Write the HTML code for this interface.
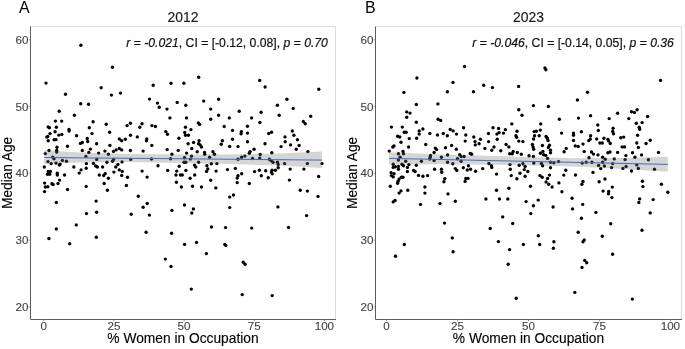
<!DOCTYPE html>
<html><head><meta charset="utf-8"><title>Median Age vs % Women in Occupation</title>
<style>html,body{margin:0;padding:0;background:#fff}svg{display:block}</style></head>
<body>
<svg width="685" height="349" viewBox="0 0 685 349" font-family='"Liberation Sans", Arial, Helvetica, sans-serif'>
<rect width="685" height="349" fill="#fff"/>
<path d="M30.5,26.5H335.5V319.5" fill="none" stroke="#dcdcdc" stroke-width="1"/>
<polygon points="44.2,150.2 80,152.6 130,153.9 183,154.4 230,154.5 280,153.4 321.9,151.5 321.9,168.1 280,165.6 230,164.0 183,162.9 130,161.9 80,162.6 44.2,164.1" fill="#dfdfe0"/>
<g fill="#000"><circle cx="80.9" cy="45.2" r="1.68"/><circle cx="112.4" cy="67.3" r="1.68"/><circle cx="46.0" cy="83.1" r="1.68"/><circle cx="153.2" cy="85.3" r="1.68"/><circle cx="101.2" cy="87.7" r="1.68"/><circle cx="65.5" cy="94.3" r="1.68"/><circle cx="111.4" cy="95.1" r="1.68"/><circle cx="120.5" cy="93.1" r="1.68"/><circle cx="171.0" cy="83.2" r="1.68"/><circle cx="183.9" cy="83.2" r="1.68"/><circle cx="198.7" cy="77.2" r="1.68"/><circle cx="259.7" cy="80.4" r="1.68"/><circle cx="265.1" cy="87.0" r="1.68"/><circle cx="318.8" cy="89.2" r="1.68"/><circle cx="80.7" cy="103.7" r="1.68"/><circle cx="88.5" cy="104.3" r="1.68"/><circle cx="59.2" cy="111.2" r="1.68"/><circle cx="74.4" cy="115.2" r="1.68"/><circle cx="55.4" cy="121.1" r="1.68"/><circle cx="61.7" cy="121.1" r="1.68"/><circle cx="93.1" cy="121.8" r="1.68"/><circle cx="106.2" cy="124.3" r="1.68"/><circle cx="127.1" cy="125.6" r="1.68"/><circle cx="130.4" cy="123.3" r="1.68"/><circle cx="48.2" cy="126.9" r="1.68"/><circle cx="49.4" cy="127.8" r="1.68"/><circle cx="56.4" cy="127.2" r="1.68"/><circle cx="89.3" cy="127.8" r="1.68"/><circle cx="69.0" cy="129.5" r="1.68"/><circle cx="69.1" cy="131.0" r="1.68"/><circle cx="55.1" cy="131.7" r="1.68"/><circle cx="50.0" cy="133.6" r="1.68"/><circle cx="109.6" cy="132.3" r="1.68"/><circle cx="92.0" cy="133.6" r="1.68"/><circle cx="58.8" cy="135.1" r="1.68"/><circle cx="61.8" cy="134.4" r="1.68"/><circle cx="76.6" cy="135.7" r="1.68"/><circle cx="130.5" cy="135.2" r="1.68"/><circle cx="46.8" cy="137.1" r="1.68"/><circle cx="47.8" cy="136.4" r="1.68"/><circle cx="54.1" cy="139.8" r="1.68"/><circle cx="56.0" cy="139.6" r="1.68"/><circle cx="48.2" cy="140.8" r="1.68"/><circle cx="87.2" cy="138.5" r="1.68"/><circle cx="87.7" cy="141.5" r="1.68"/><circle cx="119.3" cy="139.0" r="1.68"/><circle cx="121.7" cy="140.8" r="1.68"/><circle cx="125.3" cy="139.2" r="1.68"/><circle cx="80.4" cy="143.4" r="1.68"/><circle cx="82.3" cy="142.5" r="1.68"/><circle cx="96.6" cy="143.7" r="1.68"/><circle cx="109.9" cy="145.4" r="1.68"/><circle cx="67.5" cy="146.2" r="1.68"/><circle cx="57.0" cy="147.2" r="1.68"/><circle cx="49.0" cy="150.5" r="1.68"/><circle cx="56.7" cy="150.5" r="1.68"/><circle cx="56.7" cy="152.0" r="1.68"/><circle cx="82.3" cy="150.5" r="1.68"/><circle cx="90.4" cy="149.1" r="1.68"/><circle cx="88.8" cy="152.4" r="1.68"/><circle cx="104.9" cy="151.1" r="1.68"/><circle cx="98.6" cy="153.1" r="1.68"/><circle cx="108.4" cy="154.3" r="1.68"/><circle cx="113.5" cy="151.4" r="1.68"/><circle cx="116.1" cy="149.9" r="1.68"/><circle cx="119.3" cy="148.5" r="1.68"/><circle cx="121.7" cy="149.9" r="1.68"/><circle cx="130.4" cy="150.5" r="1.68"/><circle cx="45.3" cy="153.6" r="1.68"/><circle cx="52.7" cy="157.1" r="1.68"/><circle cx="54.0" cy="158.8" r="1.68"/><circle cx="85.9" cy="156.4" r="1.68"/><circle cx="96.7" cy="159.4" r="1.68"/><circle cx="113.6" cy="159.4" r="1.68"/><circle cx="112.5" cy="161.3" r="1.68"/><circle cx="48.0" cy="161.6" r="1.68"/><circle cx="51.2" cy="163.6" r="1.68"/><circle cx="56.0" cy="163.1" r="1.68"/><circle cx="62.4" cy="160.4" r="1.68"/><circle cx="66.5" cy="161.3" r="1.68"/><circle cx="59.3" cy="165.0" r="1.68"/><circle cx="60.2" cy="164.1" r="1.68"/><circle cx="86.4" cy="163.6" r="1.68"/><circle cx="93.5" cy="163.4" r="1.68"/><circle cx="95.7" cy="166.0" r="1.68"/><circle cx="97.4" cy="167.0" r="1.68"/><circle cx="106.9" cy="162.3" r="1.68"/><circle cx="122.0" cy="161.9" r="1.68"/><circle cx="117.9" cy="164.5" r="1.68"/><circle cx="44.3" cy="167.0" r="1.68"/><circle cx="73.8" cy="167.0" r="1.68"/><circle cx="86.2" cy="168.2" r="1.68"/><circle cx="102.6" cy="167.0" r="1.68"/><circle cx="115.8" cy="167.0" r="1.68"/><circle cx="81.1" cy="169.9" r="1.68"/><circle cx="79.2" cy="173.1" r="1.68"/><circle cx="48.2" cy="171.4" r="1.68"/><circle cx="50.4" cy="171.4" r="1.68"/><circle cx="47.5" cy="174.3" r="1.68"/><circle cx="49.7" cy="174.3" r="1.68"/><circle cx="57.3" cy="173.3" r="1.68"/><circle cx="57.3" cy="175.0" r="1.68"/><circle cx="64.6" cy="175.0" r="1.68"/><circle cx="99.3" cy="175.0" r="1.68"/><circle cx="105.2" cy="173.6" r="1.68"/><circle cx="103.7" cy="175.5" r="1.68"/><circle cx="113.9" cy="172.1" r="1.68"/><circle cx="119.3" cy="169.9" r="1.68"/><circle cx="122.3" cy="171.4" r="1.68"/><circle cx="121.7" cy="175.5" r="1.68"/><circle cx="127.5" cy="177.2" r="1.68"/><circle cx="108.4" cy="178.2" r="1.68"/><circle cx="59.6" cy="180.1" r="1.68"/><circle cx="44.6" cy="183.1" r="1.68"/><circle cx="51.9" cy="183.8" r="1.68"/><circle cx="53.1" cy="184.5" r="1.68"/><circle cx="58.0" cy="183.5" r="1.68"/><circle cx="104.2" cy="183.5" r="1.68"/><circle cx="126.4" cy="185.5" r="1.68"/><circle cx="86.2" cy="186.4" r="1.68"/><circle cx="45.3" cy="187.0" r="1.68"/><circle cx="47.8" cy="186.7" r="1.68"/><circle cx="67.5" cy="189.5" r="1.68"/><circle cx="107.4" cy="190.3" r="1.68"/><circle cx="130.7" cy="159.4" r="1.68"/><circle cx="44.6" cy="191.6" r="1.68"/><circle cx="56.3" cy="202.5" r="1.68"/><circle cx="96.1" cy="201.1" r="1.68"/><circle cx="86.5" cy="213.6" r="1.68"/><circle cx="96.6" cy="212.3" r="1.68"/><circle cx="76.3" cy="224.9" r="1.68"/><circle cx="56.3" cy="228.9" r="1.68"/><circle cx="131.2" cy="214.3" r="1.68"/><circle cx="48.9" cy="238.5" r="1.68"/><circle cx="69.7" cy="243.7" r="1.68"/><circle cx="96.3" cy="237.2" r="1.68"/><circle cx="165.3" cy="259.1" r="1.68"/><circle cx="171.0" cy="266.5" r="1.68"/><circle cx="184.6" cy="244.4" r="1.68"/><circle cx="196.5" cy="242.4" r="1.68"/><circle cx="191.3" cy="289.1" r="1.68"/><circle cx="149.5" cy="99.1" r="1.68"/><circle cx="157.5" cy="103.1" r="1.68"/><circle cx="159.2" cy="107.2" r="1.68"/><circle cx="167.0" cy="109.1" r="1.68"/><circle cx="177.2" cy="102.4" r="1.68"/><circle cx="185.8" cy="105.2" r="1.68"/><circle cx="203.7" cy="101.1" r="1.68"/><circle cx="218.6" cy="99.2" r="1.68"/><circle cx="210.7" cy="109.1" r="1.68"/><circle cx="218.6" cy="115.2" r="1.68"/><circle cx="210.7" cy="119.2" r="1.68"/><circle cx="229.3" cy="117.9" r="1.68"/><circle cx="169.9" cy="117.9" r="1.68"/><circle cx="186.5" cy="117.9" r="1.68"/><circle cx="142.0" cy="123.7" r="1.68"/><circle cx="139.8" cy="127.2" r="1.68"/><circle cx="151.9" cy="125.6" r="1.68"/><circle cx="155.4" cy="126.5" r="1.68"/><circle cx="198.3" cy="123.0" r="1.68"/><circle cx="199.6" cy="124.4" r="1.68"/><circle cx="224.2" cy="126.5" r="1.68"/><circle cx="185.5" cy="127.2" r="1.68"/><circle cx="190.9" cy="129.6" r="1.68"/><circle cx="165.8" cy="131.6" r="1.68"/><circle cx="167.5" cy="134.2" r="1.68"/><circle cx="184.7" cy="132.5" r="1.68"/><circle cx="185.5" cy="135.2" r="1.68"/><circle cx="188.4" cy="135.2" r="1.68"/><circle cx="137.3" cy="136.9" r="1.68"/><circle cx="146.8" cy="139.0" r="1.68"/><circle cx="146.4" cy="140.8" r="1.68"/><circle cx="178.9" cy="138.3" r="1.68"/><circle cx="151.9" cy="145.4" r="1.68"/><circle cx="188.1" cy="143.7" r="1.68"/><circle cx="193.6" cy="142.4" r="1.68"/><circle cx="199.1" cy="140.8" r="1.68"/><circle cx="198.6" cy="143.7" r="1.68"/><circle cx="200.1" cy="145.0" r="1.68"/><circle cx="201.5" cy="147.0" r="1.68"/><circle cx="222.4" cy="140.8" r="1.68"/><circle cx="221.2" cy="144.2" r="1.68"/><circle cx="229.7" cy="146.5" r="1.68"/><circle cx="143.1" cy="151.1" r="1.68"/><circle cx="167.2" cy="149.6" r="1.68"/><circle cx="178.2" cy="150.4" r="1.68"/><circle cx="191.8" cy="148.5" r="1.68"/><circle cx="186.6" cy="153.1" r="1.68"/><circle cx="197.2" cy="151.7" r="1.68"/><circle cx="171.9" cy="154.3" r="1.68"/><circle cx="204.5" cy="152.4" r="1.68"/><circle cx="204.7" cy="154.2" r="1.68"/><circle cx="212.9" cy="151.7" r="1.68"/><circle cx="214.4" cy="154.2" r="1.68"/><circle cx="191.6" cy="156.1" r="1.68"/><circle cx="209.6" cy="157.2" r="1.68"/><circle cx="151.5" cy="159.0" r="1.68"/><circle cx="170.6" cy="158.7" r="1.68"/><circle cx="184.5" cy="157.8" r="1.68"/><circle cx="190.4" cy="159.1" r="1.68"/><circle cx="184.0" cy="162.2" r="1.68"/><circle cx="185.8" cy="162.2" r="1.68"/><circle cx="198.6" cy="162.3" r="1.68"/><circle cx="211.3" cy="163.8" r="1.68"/><circle cx="216.9" cy="163.6" r="1.68"/><circle cx="158.0" cy="165.8" r="1.68"/><circle cx="179.2" cy="166.3" r="1.68"/><circle cx="194.5" cy="165.1" r="1.68"/><circle cx="195.7" cy="167.0" r="1.68"/><circle cx="206.9" cy="165.8" r="1.68"/><circle cx="207.8" cy="168.9" r="1.68"/><circle cx="206.6" cy="171.4" r="1.68"/><circle cx="142.1" cy="171.1" r="1.68"/><circle cx="167.7" cy="170.4" r="1.68"/><circle cx="176.7" cy="171.1" r="1.68"/><circle cx="185.9" cy="170.4" r="1.68"/><circle cx="216.1" cy="171.1" r="1.68"/><circle cx="227.5" cy="169.6" r="1.68"/><circle cx="176.0" cy="175.0" r="1.68"/><circle cx="180.4" cy="175.0" r="1.68"/><circle cx="182.3" cy="175.0" r="1.68"/><circle cx="194.7" cy="175.0" r="1.68"/><circle cx="147.1" cy="177.1" r="1.68"/><circle cx="190.1" cy="178.2" r="1.68"/><circle cx="210.7" cy="180.3" r="1.68"/><circle cx="176.4" cy="182.3" r="1.68"/><circle cx="181.4" cy="187.0" r="1.68"/><circle cx="192.5" cy="186.3" r="1.68"/><circle cx="201.5" cy="187.0" r="1.68"/><circle cx="215.8" cy="187.9" r="1.68"/><circle cx="138.3" cy="196.2" r="1.68"/><circle cx="147.2" cy="203.5" r="1.68"/><circle cx="143.1" cy="207.2" r="1.68"/><circle cx="149.4" cy="215.1" r="1.68"/><circle cx="171.9" cy="210.4" r="1.68"/><circle cx="184.5" cy="205.0" r="1.68"/><circle cx="193.4" cy="208.9" r="1.68"/><circle cx="191.8" cy="213.0" r="1.68"/><circle cx="229.7" cy="197.1" r="1.68"/><circle cx="229.7" cy="207.6" r="1.68"/><circle cx="211.5" cy="227.0" r="1.68"/><circle cx="225.6" cy="227.6" r="1.68"/><circle cx="146.1" cy="232.2" r="1.68"/><circle cx="171.6" cy="233.3" r="1.68"/><circle cx="206.4" cy="253.6" r="1.68"/><circle cx="224.8" cy="244.4" r="1.68"/><circle cx="225.8" cy="245.4" r="1.68"/><circle cx="243.2" cy="262.3" r="1.68"/><circle cx="245.1" cy="264.3" r="1.68"/><circle cx="242.2" cy="294.6" r="1.68"/><circle cx="272.2" cy="295.6" r="1.68"/><circle cx="286.9" cy="99.2" r="1.68"/><circle cx="277.4" cy="105.2" r="1.68"/><circle cx="293.2" cy="108.4" r="1.68"/><circle cx="239.2" cy="111.2" r="1.68"/><circle cx="261.1" cy="112.3" r="1.68"/><circle cx="279.2" cy="115.2" r="1.68"/><circle cx="310.7" cy="116.3" r="1.68"/><circle cx="251.6" cy="117.9" r="1.68"/><circle cx="259.9" cy="122.5" r="1.68"/><circle cx="303.3" cy="121.5" r="1.68"/><circle cx="305.2" cy="123.7" r="1.68"/><circle cx="247.5" cy="126.3" r="1.68"/><circle cx="232.5" cy="130.4" r="1.68"/><circle cx="241.4" cy="131.6" r="1.68"/><circle cx="241.1" cy="133.8" r="1.68"/><circle cx="247.5" cy="133.1" r="1.68"/><circle cx="268.7" cy="133.5" r="1.68"/><circle cx="271.6" cy="132.3" r="1.68"/><circle cx="292.3" cy="131.0" r="1.68"/><circle cx="293.9" cy="135.2" r="1.68"/><circle cx="285.0" cy="136.9" r="1.68"/><circle cx="232.5" cy="139.3" r="1.68"/><circle cx="247.5" cy="141.7" r="1.68"/><circle cx="285.2" cy="141.7" r="1.68"/><circle cx="297.4" cy="139.8" r="1.68"/><circle cx="265.0" cy="143.7" r="1.68"/><circle cx="290.6" cy="144.9" r="1.68"/><circle cx="299.1" cy="145.5" r="1.68"/><circle cx="281.1" cy="146.6" r="1.68"/><circle cx="238.0" cy="146.6" r="1.68"/><circle cx="296.2" cy="149.2" r="1.68"/><circle cx="254.1" cy="149.2" r="1.68"/><circle cx="250.1" cy="151.6" r="1.68"/><circle cx="249.3" cy="153.3" r="1.68"/><circle cx="271.8" cy="152.8" r="1.68"/><circle cx="307.9" cy="151.6" r="1.68"/><circle cx="260.2" cy="154.5" r="1.68"/><circle cx="244.9" cy="156.1" r="1.68"/><circle cx="241.6" cy="157.3" r="1.68"/><circle cx="238.0" cy="159.3" r="1.68"/><circle cx="252.5" cy="158.5" r="1.68"/><circle cx="259.7" cy="158.1" r="1.68"/><circle cx="269.3" cy="159.3" r="1.68"/><circle cx="271.0" cy="160.6" r="1.68"/><circle cx="273.0" cy="162.2" r="1.68"/><circle cx="277.4" cy="162.2" r="1.68"/><circle cx="278.2" cy="164.4" r="1.68"/><circle cx="284.6" cy="163.6" r="1.68"/><circle cx="307.4" cy="163.6" r="1.68"/><circle cx="322.0" cy="163.6" r="1.68"/><circle cx="235.3" cy="168.4" r="1.68"/><circle cx="278.2" cy="167.8" r="1.68"/><circle cx="290.2" cy="169.1" r="1.68"/><circle cx="303.9" cy="169.1" r="1.68"/><circle cx="259.4" cy="170.2" r="1.68"/><circle cx="254.6" cy="171.6" r="1.68"/><circle cx="265.7" cy="170.8" r="1.68"/><circle cx="272.1" cy="170.2" r="1.68"/><circle cx="271.4" cy="172.1" r="1.68"/><circle cx="272.2" cy="173.7" r="1.68"/><circle cx="275.4" cy="170.2" r="1.68"/><circle cx="241.7" cy="173.7" r="1.68"/><circle cx="238.0" cy="175.7" r="1.68"/><circle cx="237.2" cy="178.1" r="1.68"/><circle cx="261.3" cy="175.7" r="1.68"/><circle cx="268.2" cy="177.7" r="1.68"/><circle cx="318.6" cy="176.5" r="1.68"/><circle cx="289.4" cy="180.1" r="1.68"/><circle cx="237.2" cy="182.6" r="1.68"/><circle cx="249.3" cy="183.5" r="1.68"/><circle cx="300.2" cy="190.3" r="1.68"/><circle cx="307.4" cy="191.1" r="1.68"/><circle cx="233.5" cy="195.0" r="1.68"/><circle cx="318.0" cy="196.4" r="1.68"/><circle cx="277.9" cy="206.9" r="1.68"/><circle cx="306.6" cy="215.6" r="1.68"/><circle cx="251.7" cy="228.1" r="1.68"/><circle cx="288.5" cy="227.5" r="1.68"/></g>
<polygon points="44.2,150.2 80,152.6 130,153.9 183,154.4 230,154.5 280,153.4 321.9,151.5 321.9,168.1 280,165.6 230,164.0 183,162.9 130,161.9 80,162.6 44.2,164.1" fill="#aaa" fill-opacity="0.18"/>
<line x1="44.2" y1="157.5" x2="321.9" y2="160.1" stroke="#4f66ba" stroke-width="1.0"/>
<path d="M30.5,26.5V319.5H336.0" fill="none" stroke="#5c5c5c" stroke-width="1"/>
<line x1="43.8" y1="319.5" x2="43.8" y2="321.3" stroke="#777" stroke-width="0.8"/>
<text x="43.8" y="329.9" font-size="11.65" text-anchor="middle" fill="#444" stroke="#444" stroke-width="0.12">0</text>
<line x1="113.9" y1="319.5" x2="113.9" y2="321.3" stroke="#777" stroke-width="0.8"/>
<text x="113.9" y="329.9" font-size="11.65" text-anchor="middle" fill="#444" stroke="#444" stroke-width="0.12">25</text>
<line x1="184.1" y1="319.5" x2="184.1" y2="321.3" stroke="#777" stroke-width="0.8"/>
<text x="184.1" y="329.9" font-size="11.65" text-anchor="middle" fill="#444" stroke="#444" stroke-width="0.12">50</text>
<line x1="254.2" y1="319.5" x2="254.2" y2="321.3" stroke="#777" stroke-width="0.8"/>
<text x="254.2" y="329.9" font-size="11.65" text-anchor="middle" fill="#444" stroke="#444" stroke-width="0.12">75</text>
<line x1="324.4" y1="319.5" x2="324.4" y2="321.3" stroke="#777" stroke-width="0.8"/>
<text x="324.4" y="329.9" font-size="11.65" text-anchor="middle" fill="#444" stroke="#444" stroke-width="0.12">100</text>
<line x1="28.7" y1="306.8" x2="30.5" y2="306.8" stroke="#777" stroke-width="0.8"/>
<text x="28.5" y="310.9" font-size="11.65" text-anchor="end" fill="#444" stroke="#444" stroke-width="0.12">20</text>
<line x1="28.7" y1="240.1" x2="30.5" y2="240.1" stroke="#777" stroke-width="0.8"/>
<text x="28.5" y="244.2" font-size="11.65" text-anchor="end" fill="#444" stroke="#444" stroke-width="0.12">30</text>
<line x1="28.7" y1="173.3" x2="30.5" y2="173.3" stroke="#777" stroke-width="0.8"/>
<text x="28.5" y="177.4" font-size="11.65" text-anchor="end" fill="#444" stroke="#444" stroke-width="0.12">40</text>
<line x1="28.7" y1="106.6" x2="30.5" y2="106.6" stroke="#777" stroke-width="0.8"/>
<text x="28.5" y="110.7" font-size="11.65" text-anchor="end" fill="#444" stroke="#444" stroke-width="0.12">50</text>
<line x1="28.7" y1="39.8" x2="30.5" y2="39.8" stroke="#777" stroke-width="0.8"/>
<text x="28.5" y="43.9" font-size="11.65" text-anchor="end" fill="#444" stroke="#444" stroke-width="0.12">60</text>
<text x="183.0" y="21.6" font-size="13.9" text-anchor="middle" fill="#1a1a1a" stroke="#1a1a1a" stroke-width="0.15">2012</text>
<text x="183.0" y="343.3" font-size="13.78" text-anchor="middle" fill="#000" stroke="#000" stroke-width="0.12" transform="translate(0,-12.0) scale(1,1.035)">% Women in Occupation</text>
<text transform="translate(11.8,172.9) rotate(-90) scale(1,1.04)" font-size="13.63" text-anchor="middle" fill="#000" stroke="#000" stroke-width="0.12">Median Age</text>
<text x="327.9" y="47.3" font-size="12.2" text-anchor="end" fill="#111" stroke="#111" stroke-width="0.2"><tspan font-style="italic">r</tspan> = <tspan font-style="italic">-0.021</tspan>, CI = [-0.12, 0.08], <tspan font-style="italic">p</tspan> = <tspan font-style="italic">0.70</tspan></text>
<text x="19" y="12.8" font-size="15.95" fill="#000">A</text>
<path d="M375.5,26.5H681.5V319.5" fill="none" stroke="#dcdcdc" stroke-width="1"/>
<polygon points="389.2,152.2 430,154.0 475,155.6 528,157.0 575,158.2 620,157.9 667.8,156.8 667.8,171.8 620,168.7 575,166.5 528,165.3 475,164.6 430,164.2 389.2,164.4" fill="#dfdfe0"/>
<g fill="#000"><circle cx="416.9" cy="78.0" r="1.68"/><circle cx="403.9" cy="92.4" r="1.68"/><circle cx="464.5" cy="66.5" r="1.68"/><circle cx="544.9" cy="67.9" r="1.68"/><circle cx="545.9" cy="69.7" r="1.68"/><circle cx="453.0" cy="82.4" r="1.68"/><circle cx="483.7" cy="85.2" r="1.68"/><circle cx="492.4" cy="87.6" r="1.68"/><circle cx="518.6" cy="86.4" r="1.68"/><circle cx="447.4" cy="91.8" r="1.68"/><circle cx="473.5" cy="91.8" r="1.68"/><circle cx="587.5" cy="92.2" r="1.68"/><circle cx="660.5" cy="80.4" r="1.68"/><circle cx="416.3" cy="104.5" r="1.68"/><circle cx="437.9" cy="103.9" r="1.68"/><circle cx="406.7" cy="111.9" r="1.68"/><circle cx="410.0" cy="113.1" r="1.68"/><circle cx="406.7" cy="117.2" r="1.68"/><circle cx="416.3" cy="122.3" r="1.68"/><circle cx="438.1" cy="119.2" r="1.68"/><circle cx="440.7" cy="120.4" r="1.68"/><circle cx="391.4" cy="127.1" r="1.68"/><circle cx="402.3" cy="127.1" r="1.68"/><circle cx="463.6" cy="127.7" r="1.68"/><circle cx="422.9" cy="129.0" r="1.68"/><circle cx="419.2" cy="131.0" r="1.68"/><circle cx="419.2" cy="134.1" r="1.68"/><circle cx="450.2" cy="129.4" r="1.68"/><circle cx="453.1" cy="130.9" r="1.68"/><circle cx="404.2" cy="132.3" r="1.68"/><circle cx="406.1" cy="132.3" r="1.68"/><circle cx="429.9" cy="133.5" r="1.68"/><circle cx="437.5" cy="135.0" r="1.68"/><circle cx="443.3" cy="133.5" r="1.68"/><circle cx="447.3" cy="135.7" r="1.68"/><circle cx="456.5" cy="134.1" r="1.68"/><circle cx="465.8" cy="135.0" r="1.68"/><circle cx="397.6" cy="136.3" r="1.68"/><circle cx="399.8" cy="137.0" r="1.68"/><circle cx="409.3" cy="138.6" r="1.68"/><circle cx="416.6" cy="138.2" r="1.68"/><circle cx="473.8" cy="137.0" r="1.68"/><circle cx="401.0" cy="142.3" r="1.68"/><circle cx="465.2" cy="141.1" r="1.68"/><circle cx="475.0" cy="141.6" r="1.68"/><circle cx="475.3" cy="144.9" r="1.68"/><circle cx="425.7" cy="144.5" r="1.68"/><circle cx="394.0" cy="145.9" r="1.68"/><circle cx="392.8" cy="147.0" r="1.68"/><circle cx="408.6" cy="147.0" r="1.68"/><circle cx="451.6" cy="145.5" r="1.68"/><circle cx="445.5" cy="147.8" r="1.68"/><circle cx="456.3" cy="149.2" r="1.68"/><circle cx="435.3" cy="148.1" r="1.68"/><circle cx="436.6" cy="149.6" r="1.68"/><circle cx="389.3" cy="151.1" r="1.68"/><circle cx="403.0" cy="151.5" r="1.68"/><circle cx="403.5" cy="153.7" r="1.68"/><circle cx="398.4" cy="153.7" r="1.68"/><circle cx="434.1" cy="152.5" r="1.68"/><circle cx="470.2" cy="153.5" r="1.68"/><circle cx="471.6" cy="154.3" r="1.68"/><circle cx="447.6" cy="155.0" r="1.68"/><circle cx="459.7" cy="154.7" r="1.68"/><circle cx="461.1" cy="156.5" r="1.68"/><circle cx="464.1" cy="156.5" r="1.68"/><circle cx="430.5" cy="155.4" r="1.68"/><circle cx="430.2" cy="157.2" r="1.68"/><circle cx="429.7" cy="159.1" r="1.68"/><circle cx="441.4" cy="157.2" r="1.68"/><circle cx="400.1" cy="157.2" r="1.68"/><circle cx="398.4" cy="160.1" r="1.68"/><circle cx="457.5" cy="158.8" r="1.68"/><circle cx="461.1" cy="161.3" r="1.68"/><circle cx="434.1" cy="160.5" r="1.68"/><circle cx="421.4" cy="161.3" r="1.68"/><circle cx="405.7" cy="161.3" r="1.68"/><circle cx="447.6" cy="162.3" r="1.68"/><circle cx="452.8" cy="163.8" r="1.68"/><circle cx="393.2" cy="164.2" r="1.68"/><circle cx="402.0" cy="164.2" r="1.68"/><circle cx="403.5" cy="165.7" r="1.68"/><circle cx="408.9" cy="164.6" r="1.68"/><circle cx="416.3" cy="165.2" r="1.68"/><circle cx="468.4" cy="165.7" r="1.68"/><circle cx="393.2" cy="167.4" r="1.68"/><circle cx="395.4" cy="166.8" r="1.68"/><circle cx="398.4" cy="166.4" r="1.68"/><circle cx="398.4" cy="169.3" r="1.68"/><circle cx="407.4" cy="167.4" r="1.68"/><circle cx="407.4" cy="171.5" r="1.68"/><circle cx="434.6" cy="169.3" r="1.68"/><circle cx="441.4" cy="169.3" r="1.68"/><circle cx="441.7" cy="172.2" r="1.68"/><circle cx="455.3" cy="168.6" r="1.68"/><circle cx="456.8" cy="170.5" r="1.68"/><circle cx="463.3" cy="167.8" r="1.68"/><circle cx="467.3" cy="170.0" r="1.68"/><circle cx="470.6" cy="169.3" r="1.68"/><circle cx="475.6" cy="171.3" r="1.68"/><circle cx="413.7" cy="170.5" r="1.68"/><circle cx="415.1" cy="171.5" r="1.68"/><circle cx="391.1" cy="172.7" r="1.68"/><circle cx="394.0" cy="173.7" r="1.68"/><circle cx="391.4" cy="175.6" r="1.68"/><circle cx="393.2" cy="176.9" r="1.68"/><circle cx="418.5" cy="175.4" r="1.68"/><circle cx="422.9" cy="176.3" r="1.68"/><circle cx="427.6" cy="175.6" r="1.68"/><circle cx="401.3" cy="177.3" r="1.68"/><circle cx="403.0" cy="177.3" r="1.68"/><circle cx="399.1" cy="179.1" r="1.68"/><circle cx="398.1" cy="181.3" r="1.68"/><circle cx="397.6" cy="183.2" r="1.68"/><circle cx="444.8" cy="178.8" r="1.68"/><circle cx="443.9" cy="181.7" r="1.68"/><circle cx="465.8" cy="178.4" r="1.68"/><circle cx="468.0" cy="178.4" r="1.68"/><circle cx="465.1" cy="181.4" r="1.68"/><circle cx="390.3" cy="186.3" r="1.68"/><circle cx="424.9" cy="187.0" r="1.68"/><circle cx="424.9" cy="193.1" r="1.68"/><circle cx="407.8" cy="190.2" r="1.68"/><circle cx="401.0" cy="190.9" r="1.68"/><circle cx="399.1" cy="193.1" r="1.68"/><circle cx="448.0" cy="193.9" r="1.68"/><circle cx="395.1" cy="200.4" r="1.68"/><circle cx="393.2" cy="201.9" r="1.68"/><circle cx="455.3" cy="201.2" r="1.68"/><circle cx="420.5" cy="204.4" r="1.68"/><circle cx="440.0" cy="203.6" r="1.68"/><circle cx="444.5" cy="223.1" r="1.68"/><circle cx="404.3" cy="244.5" r="1.68"/><circle cx="395.5" cy="256.2" r="1.68"/><circle cx="452.3" cy="237.9" r="1.68"/><circle cx="453.1" cy="251.7" r="1.68"/><circle cx="490.2" cy="228.5" r="1.68"/><circle cx="498.4" cy="241.6" r="1.68"/><circle cx="509.6" cy="249.6" r="1.68"/><circle cx="508.2" cy="264.2" r="1.68"/><circle cx="523.4" cy="244.5" r="1.68"/><circle cx="538.3" cy="235.7" r="1.68"/><circle cx="539.7" cy="244.5" r="1.68"/><circle cx="516.2" cy="298.3" r="1.68"/><circle cx="533.4" cy="105.6" r="1.68"/><circle cx="548.4" cy="106.5" r="1.68"/><circle cx="518.8" cy="109.7" r="1.68"/><circle cx="522.0" cy="115.3" r="1.68"/><circle cx="559.4" cy="119.2" r="1.68"/><circle cx="511.8" cy="123.9" r="1.68"/><circle cx="540.7" cy="123.9" r="1.68"/><circle cx="493.0" cy="127.7" r="1.68"/><circle cx="498.6" cy="128.4" r="1.68"/><circle cx="505.4" cy="129.6" r="1.68"/><circle cx="488.4" cy="133.5" r="1.68"/><circle cx="499.1" cy="132.6" r="1.68"/><circle cx="496.9" cy="134.1" r="1.68"/><circle cx="503.5" cy="133.1" r="1.68"/><circle cx="517.0" cy="131.3" r="1.68"/><circle cx="515.9" cy="135.7" r="1.68"/><circle cx="516.6" cy="137.2" r="1.68"/><circle cx="534.1" cy="131.6" r="1.68"/><circle cx="536.3" cy="131.3" r="1.68"/><circle cx="540.3" cy="130.1" r="1.68"/><circle cx="534.6" cy="135.7" r="1.68"/><circle cx="539.2" cy="135.7" r="1.68"/><circle cx="533.6" cy="139.0" r="1.68"/><circle cx="546.1" cy="136.4" r="1.68"/><circle cx="547.3" cy="138.2" r="1.68"/><circle cx="561.6" cy="133.1" r="1.68"/><circle cx="573.5" cy="133.1" r="1.68"/><circle cx="573.5" cy="135.3" r="1.68"/><circle cx="480.5" cy="139.3" r="1.68"/><circle cx="497.2" cy="139.3" r="1.68"/><circle cx="479.1" cy="143.8" r="1.68"/><circle cx="488.6" cy="141.6" r="1.68"/><circle cx="518.8" cy="141.1" r="1.68"/><circle cx="522.9" cy="141.6" r="1.68"/><circle cx="548.0" cy="140.5" r="1.68"/><circle cx="506.1" cy="144.5" r="1.68"/><circle cx="508.9" cy="147.0" r="1.68"/><circle cx="494.0" cy="147.0" r="1.68"/><circle cx="484.9" cy="148.4" r="1.68"/><circle cx="491.8" cy="150.3" r="1.68"/><circle cx="500.8" cy="150.8" r="1.68"/><circle cx="532.4" cy="144.5" r="1.68"/><circle cx="533.1" cy="147.0" r="1.68"/><circle cx="533.7" cy="149.3" r="1.68"/><circle cx="542.4" cy="145.5" r="1.68"/><circle cx="549.5" cy="145.2" r="1.68"/><circle cx="548.4" cy="147.4" r="1.68"/><circle cx="550.5" cy="150.3" r="1.68"/><circle cx="550.5" cy="152.8" r="1.68"/><circle cx="575.3" cy="145.9" r="1.68"/><circle cx="566.2" cy="148.4" r="1.68"/><circle cx="564.1" cy="151.8" r="1.68"/><circle cx="513.2" cy="151.4" r="1.68"/><circle cx="509.7" cy="153.7" r="1.68"/><circle cx="512.2" cy="153.7" r="1.68"/><circle cx="517.3" cy="152.5" r="1.68"/><circle cx="521.3" cy="154.3" r="1.68"/><circle cx="529.0" cy="155.7" r="1.68"/><circle cx="533.4" cy="156.5" r="1.68"/><circle cx="542.9" cy="151.4" r="1.68"/><circle cx="540.4" cy="153.2" r="1.68"/><circle cx="543.6" cy="154.7" r="1.68"/><circle cx="545.8" cy="155.4" r="1.68"/><circle cx="547.6" cy="158.4" r="1.68"/><circle cx="550.5" cy="162.3" r="1.68"/><circle cx="553.8" cy="162.7" r="1.68"/><circle cx="558.6" cy="161.6" r="1.68"/><circle cx="533.8" cy="163.0" r="1.68"/><circle cx="541.4" cy="163.5" r="1.68"/><circle cx="542.6" cy="165.7" r="1.68"/><circle cx="488.9" cy="163.5" r="1.68"/><circle cx="491.4" cy="165.7" r="1.68"/><circle cx="491.8" cy="167.4" r="1.68"/><circle cx="510.0" cy="164.6" r="1.68"/><circle cx="519.2" cy="165.2" r="1.68"/><circle cx="522.9" cy="163.8" r="1.68"/><circle cx="525.1" cy="166.4" r="1.68"/><circle cx="550.5" cy="167.8" r="1.68"/><circle cx="482.7" cy="168.6" r="1.68"/><circle cx="510.3" cy="169.3" r="1.68"/><circle cx="524.3" cy="169.6" r="1.68"/><circle cx="527.8" cy="171.5" r="1.68"/><circle cx="565.8" cy="170.3" r="1.68"/><circle cx="496.5" cy="174.1" r="1.68"/><circle cx="520.0" cy="173.2" r="1.68"/><circle cx="511.2" cy="175.6" r="1.68"/><circle cx="525.1" cy="176.3" r="1.68"/><circle cx="563.8" cy="175.1" r="1.68"/><circle cx="540.0" cy="175.6" r="1.68"/><circle cx="542.2" cy="177.3" r="1.68"/><circle cx="549.5" cy="175.1" r="1.68"/><circle cx="547.6" cy="178.4" r="1.68"/><circle cx="516.9" cy="178.8" r="1.68"/><circle cx="546.1" cy="182.0" r="1.68"/><circle cx="548.7" cy="184.3" r="1.68"/><circle cx="558.9" cy="182.9" r="1.68"/><circle cx="575.5" cy="175.0" r="1.68"/><circle cx="552.1" cy="187.0" r="1.68"/><circle cx="530.5" cy="186.3" r="1.68"/><circle cx="508.9" cy="188.3" r="1.68"/><circle cx="496.5" cy="190.2" r="1.68"/><circle cx="561.9" cy="191.7" r="1.68"/><circle cx="485.9" cy="199.0" r="1.68"/><circle cx="499.5" cy="199.0" r="1.68"/><circle cx="507.8" cy="199.0" r="1.68"/><circle cx="526.1" cy="201.6" r="1.68"/><circle cx="538.2" cy="200.1" r="1.68"/><circle cx="533.4" cy="205.7" r="1.68"/><circle cx="572.1" cy="198.2" r="1.68"/><circle cx="553.1" cy="207.0" r="1.68"/><circle cx="572.5" cy="208.9" r="1.68"/><circle cx="530.8" cy="213.6" r="1.68"/><circle cx="502.7" cy="216.9" r="1.68"/><circle cx="512.7" cy="223.5" r="1.68"/><circle cx="577.4" cy="100.0" r="1.68"/><circle cx="637.1" cy="109.8" r="1.68"/><circle cx="631.5" cy="111.7" r="1.68"/><circle cx="634.4" cy="112.5" r="1.68"/><circle cx="617.6" cy="113.3" r="1.68"/><circle cx="590.6" cy="115.7" r="1.68"/><circle cx="578.5" cy="118.1" r="1.68"/><circle cx="609.2" cy="118.6" r="1.68"/><circle cx="628.8" cy="118.6" r="1.68"/><circle cx="647.6" cy="116.5" r="1.68"/><circle cx="636.3" cy="123.2" r="1.68"/><circle cx="642.1" cy="122.6" r="1.68"/><circle cx="597.8" cy="125.0" r="1.68"/><circle cx="598.3" cy="130.5" r="1.68"/><circle cx="613.1" cy="128.2" r="1.68"/><circle cx="612.7" cy="131.4" r="1.68"/><circle cx="613.5" cy="133.7" r="1.68"/><circle cx="639.2" cy="127.3" r="1.68"/><circle cx="639.7" cy="129.3" r="1.68"/><circle cx="581.4" cy="131.8" r="1.68"/><circle cx="637.6" cy="135.3" r="1.68"/><circle cx="590.6" cy="135.8" r="1.68"/><circle cx="620.8" cy="137.7" r="1.68"/><circle cx="623.7" cy="137.1" r="1.68"/><circle cx="596.7" cy="139.0" r="1.68"/><circle cx="603.9" cy="138.2" r="1.68"/><circle cx="607.9" cy="139.5" r="1.68"/><circle cx="608.7" cy="141.1" r="1.68"/><circle cx="590.3" cy="139.0" r="1.68"/><circle cx="588.7" cy="140.6" r="1.68"/><circle cx="573.5" cy="140.5" r="1.68"/><circle cx="650.2" cy="140.3" r="1.68"/><circle cx="583.0" cy="144.1" r="1.68"/><circle cx="599.9" cy="143.0" r="1.68"/><circle cx="602.3" cy="143.0" r="1.68"/><circle cx="610.3" cy="143.5" r="1.68"/><circle cx="636.8" cy="143.0" r="1.68"/><circle cx="646.1" cy="143.5" r="1.68"/><circle cx="578.2" cy="146.4" r="1.68"/><circle cx="622.1" cy="146.9" r="1.68"/><circle cx="624.5" cy="146.9" r="1.68"/><circle cx="638.4" cy="147.5" r="1.68"/><circle cx="584.2" cy="151.6" r="1.68"/><circle cx="591.5" cy="152.0" r="1.68"/><circle cx="593.5" cy="154.1" r="1.68"/><circle cx="598.0" cy="154.9" r="1.68"/><circle cx="607.9" cy="152.8" r="1.68"/><circle cx="610.0" cy="152.0" r="1.68"/><circle cx="617.6" cy="152.4" r="1.68"/><circle cx="632.5" cy="152.8" r="1.68"/><circle cx="658.5" cy="152.4" r="1.68"/><circle cx="625.9" cy="155.6" r="1.68"/><circle cx="641.6" cy="154.9" r="1.68"/><circle cx="589.0" cy="157.7" r="1.68"/><circle cx="602.6" cy="157.3" r="1.68"/><circle cx="605.2" cy="159.3" r="1.68"/><circle cx="634.9" cy="157.3" r="1.68"/><circle cx="614.3" cy="158.9" r="1.68"/><circle cx="625.1" cy="159.6" r="1.68"/><circle cx="648.4" cy="159.8" r="1.68"/><circle cx="582.2" cy="163.0" r="1.68"/><circle cx="586.2" cy="162.2" r="1.68"/><circle cx="591.9" cy="162.2" r="1.68"/><circle cx="602.6" cy="162.2" r="1.68"/><circle cx="612.7" cy="163.6" r="1.68"/><circle cx="598.6" cy="165.4" r="1.68"/><circle cx="600.7" cy="168.6" r="1.68"/><circle cx="604.4" cy="166.0" r="1.68"/><circle cx="611.6" cy="167.6" r="1.68"/><circle cx="622.9" cy="168.4" r="1.68"/><circle cx="626.1" cy="166.5" r="1.68"/><circle cx="636.8" cy="164.9" r="1.68"/><circle cx="638.4" cy="168.4" r="1.68"/><circle cx="654.5" cy="169.2" r="1.68"/><circle cx="631.5" cy="171.0" r="1.68"/><circle cx="593.0" cy="172.4" r="1.68"/><circle cx="605.0" cy="179.0" r="1.68"/><circle cx="599.1" cy="181.8" r="1.68"/><circle cx="583.0" cy="181.4" r="1.68"/><circle cx="581.9" cy="184.2" r="1.68"/><circle cx="642.4" cy="181.3" r="1.68"/><circle cx="642.9" cy="186.6" r="1.68"/><circle cx="661.4" cy="184.2" r="1.68"/><circle cx="612.3" cy="187.1" r="1.68"/><circle cx="603.1" cy="191.1" r="1.68"/><circle cx="608.7" cy="191.4" r="1.68"/><circle cx="608.4" cy="193.8" r="1.68"/><circle cx="667.8" cy="192.2" r="1.68"/><circle cx="611.9" cy="197.6" r="1.68"/><circle cx="639.7" cy="198.9" r="1.68"/><circle cx="638.8" cy="202.5" r="1.68"/><circle cx="653.2" cy="199.6" r="1.68"/><circle cx="582.7" cy="204.4" r="1.68"/><circle cx="595.9" cy="212.4" r="1.68"/><circle cx="650.2" cy="212.9" r="1.68"/><circle cx="581.4" cy="218.2" r="1.68"/><circle cx="610.7" cy="223.7" r="1.68"/><circle cx="642.0" cy="230.2" r="1.68"/><circle cx="578.2" cy="232.2" r="1.68"/><circle cx="602.3" cy="236.2" r="1.68"/><circle cx="584.2" cy="239.9" r="1.68"/><circle cx="583.0" cy="241.8" r="1.68"/><circle cx="553.9" cy="241.7" r="1.68"/><circle cx="553.4" cy="248.3" r="1.68"/><circle cx="612.6" cy="254.2" r="1.68"/><circle cx="584.7" cy="260.4" r="1.68"/><circle cx="586.7" cy="262.8" r="1.68"/><circle cx="582.0" cy="267.5" r="1.68"/><circle cx="574.8" cy="292.4" r="1.68"/><circle cx="632.3" cy="299.1" r="1.68"/></g>
<polygon points="389.2,152.2 430,154.0 475,155.6 528,157.0 575,158.2 620,157.9 667.8,156.8 667.8,171.8 620,168.7 575,166.5 528,165.3 475,164.6 430,164.2 389.2,164.4" fill="#aaa" fill-opacity="0.18"/>
<line x1="389.2" y1="158.4" x2="667.8" y2="164.4" stroke="#4f66ba" stroke-width="1.0"/>
<path d="M375.5,26.5V319.5H682.0" fill="none" stroke="#5c5c5c" stroke-width="1"/>
<line x1="386.5" y1="319.5" x2="386.5" y2="321.3" stroke="#777" stroke-width="0.8"/>
<text x="386.5" y="329.9" font-size="11.65" text-anchor="middle" fill="#444" stroke="#444" stroke-width="0.12">0</text>
<line x1="457.5" y1="319.5" x2="457.5" y2="321.3" stroke="#777" stroke-width="0.8"/>
<text x="457.5" y="329.9" font-size="11.65" text-anchor="middle" fill="#444" stroke="#444" stroke-width="0.12">25</text>
<line x1="528.5" y1="319.5" x2="528.5" y2="321.3" stroke="#777" stroke-width="0.8"/>
<text x="528.5" y="329.9" font-size="11.65" text-anchor="middle" fill="#444" stroke="#444" stroke-width="0.12">50</text>
<line x1="599.4" y1="319.5" x2="599.4" y2="321.3" stroke="#777" stroke-width="0.8"/>
<text x="599.4" y="329.9" font-size="11.65" text-anchor="middle" fill="#444" stroke="#444" stroke-width="0.12">75</text>
<line x1="670.4" y1="319.5" x2="670.4" y2="321.3" stroke="#777" stroke-width="0.8"/>
<text x="670.4" y="329.9" font-size="11.65" text-anchor="middle" fill="#444" stroke="#444" stroke-width="0.12">100</text>
<line x1="373.7" y1="306.8" x2="375.5" y2="306.8" stroke="#777" stroke-width="0.8"/>
<text x="373.5" y="310.9" font-size="11.65" text-anchor="end" fill="#444" stroke="#444" stroke-width="0.12">20</text>
<line x1="373.7" y1="240.1" x2="375.5" y2="240.1" stroke="#777" stroke-width="0.8"/>
<text x="373.5" y="244.2" font-size="11.65" text-anchor="end" fill="#444" stroke="#444" stroke-width="0.12">30</text>
<line x1="373.7" y1="173.3" x2="375.5" y2="173.3" stroke="#777" stroke-width="0.8"/>
<text x="373.5" y="177.4" font-size="11.65" text-anchor="end" fill="#444" stroke="#444" stroke-width="0.12">40</text>
<line x1="373.7" y1="106.6" x2="375.5" y2="106.6" stroke="#777" stroke-width="0.8"/>
<text x="373.5" y="110.7" font-size="11.65" text-anchor="end" fill="#444" stroke="#444" stroke-width="0.12">50</text>
<line x1="373.7" y1="39.8" x2="375.5" y2="39.8" stroke="#777" stroke-width="0.8"/>
<text x="373.5" y="43.9" font-size="11.65" text-anchor="end" fill="#444" stroke="#444" stroke-width="0.12">60</text>
<text x="528.5" y="21.6" font-size="13.9" text-anchor="middle" fill="#1a1a1a" stroke="#1a1a1a" stroke-width="0.15">2023</text>
<text x="528.5" y="343.3" font-size="13.78" text-anchor="middle" fill="#000" stroke="#000" stroke-width="0.12" transform="translate(0,-12.0) scale(1,1.035)">% Women in Occupation</text>
<text transform="translate(356.8,172.9) rotate(-90) scale(1,1.04)" font-size="13.63" text-anchor="middle" fill="#000" stroke="#000" stroke-width="0.12">Median Age</text>
<text x="673.9" y="47.3" font-size="12.2" text-anchor="end" fill="#111" stroke="#111" stroke-width="0.2"><tspan font-style="italic">r</tspan> = <tspan font-style="italic">-0.046</tspan>, CI = [-0.14, 0.05], <tspan font-style="italic">p</tspan> = <tspan font-style="italic">0.36</tspan></text>
<text x="365.1" y="12.8" font-size="15.95" fill="#000">B</text>
</svg>
</body></html>
